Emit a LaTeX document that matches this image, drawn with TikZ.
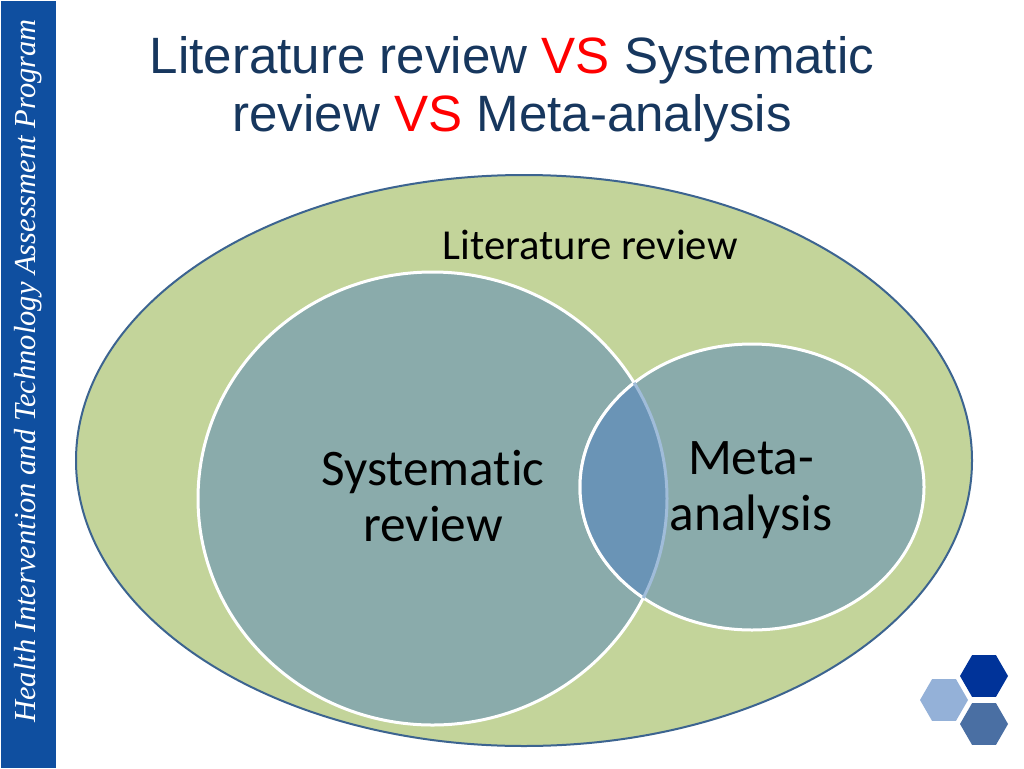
\documentclass[tikz,border=0pt]{standalone}
\usepackage{fontspec}
\setmainfont[Ligatures=NoCommon]{Carlito}
\newfontfamily\titlefont{Liberation Sans}
\newfontfamily\sidefont{Liberation Serif}
\usetikzlibrary{shapes.geometric}
\definecolor{sidebar}{HTML}{0F4FA0}
\definecolor{titleblue}{HTML}{17375E}
\definecolor{outerfill}{HTML}{C3D49A}
\definecolor{outerline}{HTML}{3C6490}
\definecolor{tealfill}{HTML}{8AABAB}
\definecolor{overlapfill}{HTML}{6A94B6}
\definecolor{overlapline}{HTML}{A0BCD9}
\definecolor{hexdark}{HTML}{003399}
\definecolor{hexlight}{HTML}{94B1D8}
\definecolor{hexmid}{HTML}{4A6FA3}
\tikzset{
  bluetitle/.style={font=\titlefont\fontsize{51.1}{58}\selectfont, text=titleblue, align=center, inner sep=0pt},
  bodytext/.style={font=\fontsize{51.3}{56}\selectfont, text=black, align=center, inner sep=0pt},
  whitering/.style={draw=white, line width=3pt},
  hexshape/.style={regular polygon, regular polygon sides=6, minimum size=48pt, inner sep=0pt, draw=none}
}
\newcommand{\vs}{\textcolor{red}{VS}}
\begin{document}
\begin{tikzpicture}[x=1pt,y=-1pt]
\useasboundingbox (0,0) rectangle (1024,768);
\fill[white] (0,0) rectangle (1024,768);
\fill[sidebar] (1,1) rectangle (56,768);
\node[rotate=90, text=white, inner sep=0pt, font=\sidefont\itshape\fontsize{30.5}{34}\selectfont] (side) at (28,371) {Health Intervention and Technology Assessment Program};
\node[bluetitle] (title) at (512,89) {Literature review \vs{} Systematic\\review \vs{} Meta-analysis};
\node[ellipse, draw=outerline, fill=outerfill, line width=2pt, minimum width=896pt, minimum height=571pt, inner sep=0pt] (outer) at (524,460.5) {};
\node[ellipse, whitering, fill=tealfill, minimum width=469pt, minimum height=453pt, inner sep=0pt] (sys) at (432.5,498.5) {};
\node[ellipse, whitering, fill=tealfill, minimum width=344pt, minimum height=286pt, inner sep=0pt] (meta) at (752,487) {};
\begin{scope}
  \clip (752,487) ellipse [x radius=172, y radius=143];
  \fill[overlapfill] (432.5,498.5) ellipse [x radius=234.5, y radius=226.5];
  \draw[overlapline, line width=3pt] (432.5,498.5) ellipse [x radius=234.5, y radius=226.5];
\end{scope}
\begin{scope}
  \clip (432.5,498.5) ellipse [x radius=233, y radius=225];
  \draw[white, line width=3pt] (752,487) ellipse [x radius=172, y radius=143];
\end{scope}
\node[font=\fontsize{42.7}{50}\selectfont, inner sep=0pt] (litlabel) at (590,245) {Literature review};
\node[bodytext] (syslabel) at (433,496) {Systematic\\review};
\node[bodytext] (metalabel) at (751,490) {Meta-\\analysis};
\node[hexshape, fill=hexdark] (hexa) at (984,676) {};
\node[hexshape, fill=hexlight] (hexb) at (944,700) {};
\node[hexshape, fill=hexmid] (hexc) at (984,724) {};
\end{tikzpicture}
\end{document}
